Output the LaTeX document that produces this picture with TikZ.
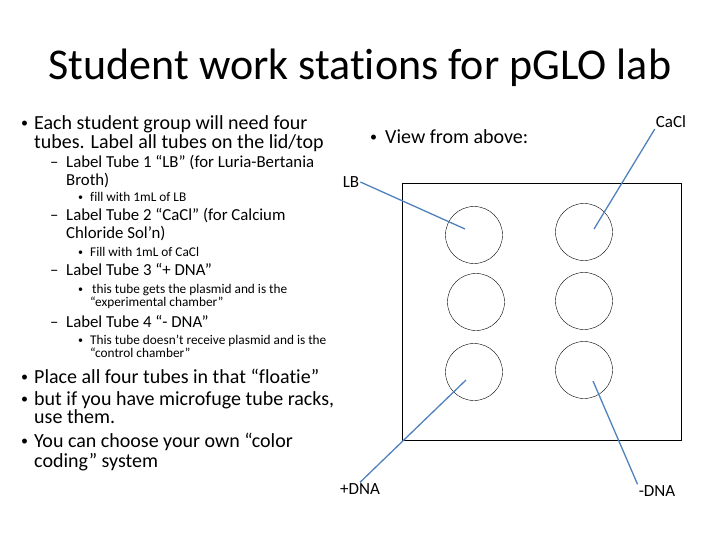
\documentclass[tikz,border=0pt]{standalone}
\usepackage{fontspec}
\setmainfont{Carlito}[Ligatures=NoCommon]
\begin{document}
\begin{tikzpicture}[x=1pt,y=-1pt,
  t/.style={anchor=base west,inner sep=0pt},
  a/.style={t,font=\fontsize{20}{22}\selectfont},
  b/.style={t,font=\fontsize{16.8}{18}\selectfont},
  c/.style={t,font=\fontsize{13.3}{14}\selectfont},
  bu/.style={t,font=\fontsize{14}{14}\selectfont},
  bs/.style={t,font=\fontsize{10}{10}\selectfont},
  lbl/.style={inner sep=1pt,font=\fontsize{17}{18}\selectfont},
  tube/.style={draw,circle,minimum size=57pt,inner sep=0pt},
  ptr/.style={draw={rgb,255:red,79;green,129;blue,189},line width=1.3pt}]
\useasboundingbox (0,0) rectangle (720,540);
\node[inner sep=0pt,font=\fontsize{44}{48}\selectfont] (title) at (360,68) {Student work stations for pGLO lab};
% left text
\node[bu] (a1b) at (21,128) {•}; \node[a] (a1) at (34,130) {Each student group will need four};
\node[a] (a2) at (34,149) {tubes. Label all tubes on the lid/top};
\node[b] (b1d) at (50,168) {–}; \node[b] (b1) at (66,168) {Label Tube 1 “LB” (for Luria-Bertania};
\node[b] (b2) at (66,186) {Broth)};
\node[bs] (c1b) at (78,201) {•}; \node[c] (c1) at (90,202) {fill with 1mL of LB};
\node[b] (b3d) at (50,221) {–}; \node[b] (b3) at (66,221) {Label Tube 2 “CaCl” (for Calcium};
\node[b] (b4) at (66,239) {Chloride Sol’n)};
\node[bs] (c2b) at (78,255) {•}; \node[c] (c2) at (90,256) {Fill with 1mL of CaCl};
\node[b] (b5d) at (50,275) {–}; \node[b] (b5) at (66,275) {Label Tube 3 “+ DNA”};
\node[bs] (c3b) at (78,292) {•}; \node[c] (c3) at (92,293) {this tube gets the plasmid and is the};
\node[c] (c4) at (90,306) {“experimental chamber”};
\node[b] (b6d) at (50,327) {–}; \node[b] (b6) at (66,327) {Label Tube 4 “- DNA”};
\node[bs] (c5b) at (78,343) {•}; \node[c] (c5) at (90,344) {This tube doesn’t receive plasmid and is the};
\node[c] (c6) at (90,357) {“control chamber”};
\node[bu] (a3b) at (21,381) {•}; \node[a] (a3) at (34,383) {Place all four tubes in that “floatie”};
\node[bu] (a4b) at (21,403) {•}; \node[a] (a4) at (34,405) {but if you have microfuge tube racks,};
\node[a] (a5) at (34,423) {use them.};
\node[bu] (a6b) at (21,445) {•}; \node[a] (a6) at (34,447) {You can choose your own “color};
\node[a] (a7) at (34,467) {coding” system};
% right
\node[bu] (vb) at (370,142) {•}; \node[a] (v) at (385,144) {View from above:};
\draw[line width=0.8pt] (402,183) rectangle (681,440);
\node[tube] (t1) at (474,235) {};
\node[tube] (t2) at (584,232) {};
\node[tube] (t3) at (476,302) {};
\node[tube] (t4) at (584,301) {};
\node[tube] (t5) at (474,372) {};
\node[tube] (t6) at (584,370) {};
\coordinate (p1) at (465,229);
\coordinate (p2) at (594,229);
\coordinate (p5) at (466,380);
\coordinate (p6) at (593,381);
\node[lbl] (lb) at (351,182) {LB};
\node[lbl] (cacl) at (671,122) {CaCl};
\node[lbl] (pd) at (360,489) {+DNA};
\node[lbl] (md) at (657,491) {-DNA};
\draw[ptr] (lb.east) -- (p1);
\draw[ptr] (cacl.south west) -- (p2);
\draw[ptr] (pd.north) -- (p5);
\draw[ptr] (md.north west) -- (p6);
\end{tikzpicture}
\end{document}
